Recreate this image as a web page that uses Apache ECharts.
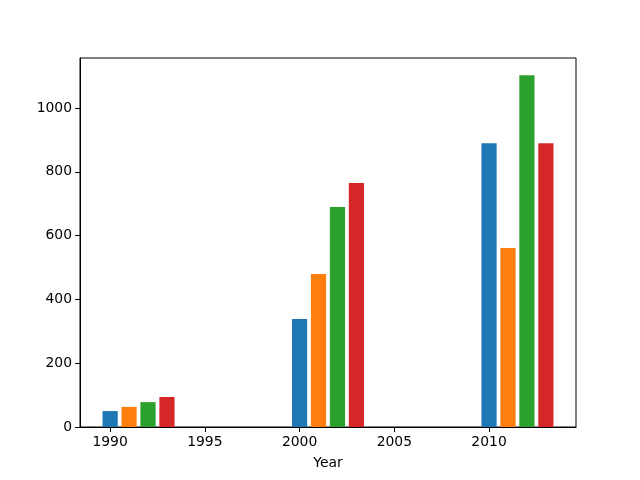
<!DOCTYPE html>
<html>
<head>
<meta charset="utf-8">
<script src="https://cdn.jsdelivr.net/npm/echarts@6/dist/echarts.min.js"></script>
<style>html,body{margin:0;padding:0;background:#fff}#c{width:640px;height:480px}</style>
</head>
<body>
<div id="c"></div>
<script>
const decades = [1990, 2000, 2010];
const offsets = [0, 1, 2, 3];
const seriesA = [50, 339, 890];
const seriesB = [63, 480, 561];
const seriesC = [78, 690, 1103];
const seriesD = [94, 765, 890];
const xTicks = [1990, 1995, 2000, 2005, 2010];
const yTicks = [0, 200, 400, 600, 800, 1000];
const colors = ['#1f77b4', '#ff7f0e', '#2ca02c', '#d62728'];

const all = [seriesA, seriesB, seriesC, seriesD];
const chart = echarts.init(document.getElementById('c'));
const font = 'DejaVu Sans';
const plain = v => String(Math.round(v));
chart.setOption({
  animation: false,
  textStyle: {fontFamily: font},
  grid: {left: 80, right: 64, top: 58, bottom: 53, show: true, borderColor: '#000', borderWidth: 1, backgroundColor: 'transparent'},
  xAxis: {
    type: 'value', min: 1988.41, max: 2014.59,
    name: 'Year', nameLocation: 'middle', nameGap: 29,
    nameTextStyle: {color: '#000', fontSize: 13.9, fontFamily: font},
    axisLine: {show: true, onZero: false, lineStyle: {color: '#000', width: 1}},
    axisTick: {show: true, length: 5, lineStyle: {color: '#000'}, customValues: xTicks},
    axisLabel: {color: '#000', fontSize: 13.9, fontFamily: font, margin: 8, customValues: xTicks, formatter: plain},
    splitLine: {show: false}
  },
  yAxis: {
    type: 'value', min: 0, max: 1157,
    axisLine: {show: true, lineStyle: {color: '#000', width: 1}},
    axisTick: {show: true, length: 5, lineStyle: {color: '#000'}, customValues: yTicks},
    axisLabel: {color: '#000', fontSize: 13.9, fontFamily: font, margin: 8, customValues: yTicks, formatter: plain},
    splitLine: {show: false}
  },
  series: all.map((vals, k) => ({
    type: 'bar',
    barWidth: 15.2,
    barGap: '-100%',
    itemStyle: {color: colors[k]},
    data: vals.map((v, i) => [decades[i] + offsets[k], v])
  }))
});
</script>
</body>
</html>
